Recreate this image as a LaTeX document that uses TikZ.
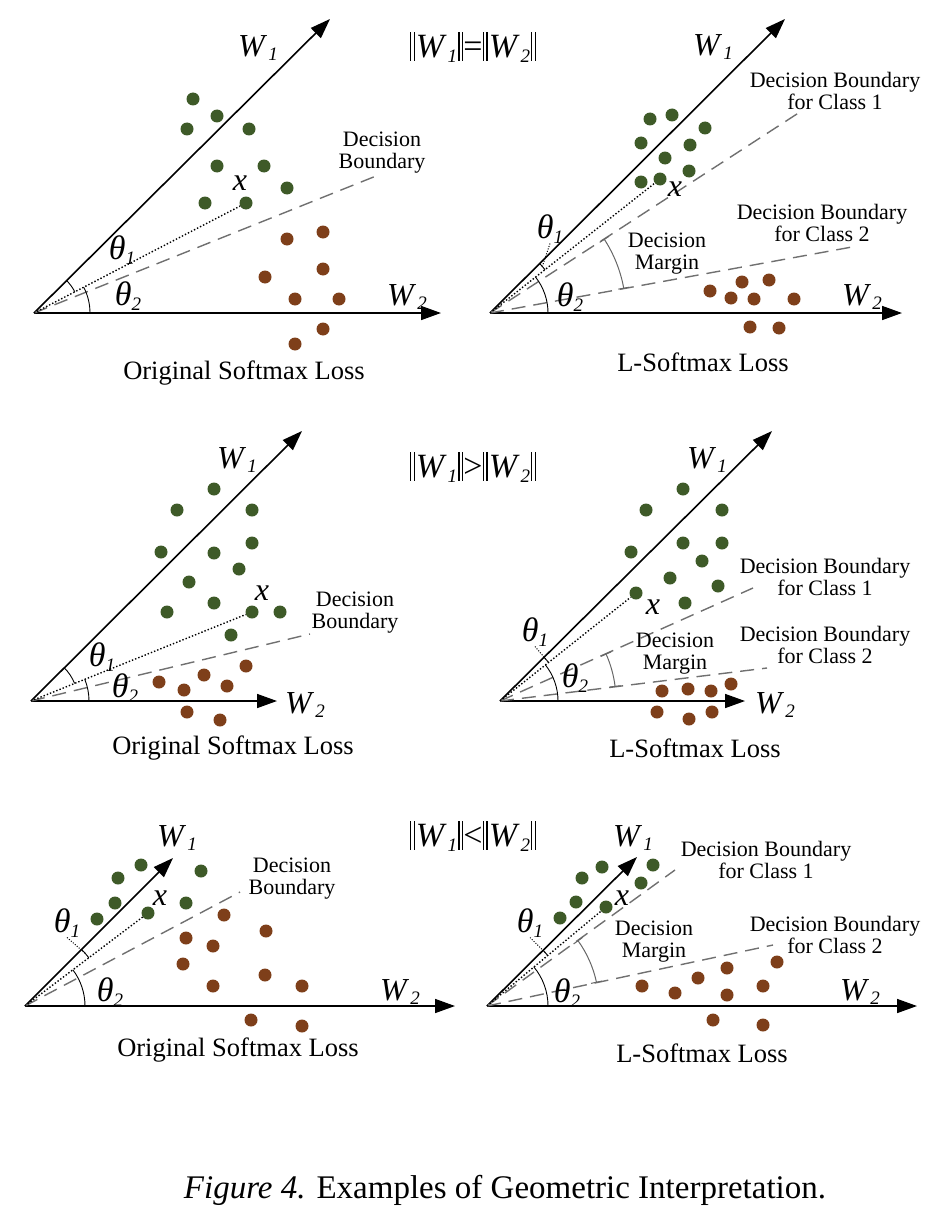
\documentclass[tikz,border=0pt]{standalone}
\usepackage{fontspec}
\setmainfont{Liberation Serif}
\usetikzlibrary{arrows.meta}

\definecolor{dotgreen}{RGB}{62,90,40}
\definecolor{dotbrown}{RGB}{126,63,26}
\definecolor{bndgray}{RGB}{112,112,112}

\newcommand{\wlab}[1]{\textit{W}\kern1pt\raisebox{-0.15em}{\fontsize{19}{19}\selectfont\textit{#1}}}
\newcommand{\thlab}[1]{{\fontsize{34}{34}\selectfont\textit{θ}}\raisebox{-0.15em}{\fontsize{19}{19}\selectfont\textit{#1}}}
\newcommand{\dbar}{\rule[-0.1em]{1.3pt}{0.86em}\kern2.6pt\rule[-0.1em]{1.3pt}{0.86em}}
\newcommand{\nrm}[1]{\dbar\kern1pt#1\kern1pt\dbar}

\begin{document}
\begin{tikzpicture}[x=1pt, y=-1pt,
    axis/.style={line width=1.6pt, -{Triangle[length=20pt,width=14pt]}},
    bound/.style={line width=1.4pt, bndgray, dash pattern=on 14pt off 8pt},
    xline/.style={line width=1.4pt, dash pattern=on 1.4pt off 2pt},
    leader/.style={line width=1pt, dash pattern=on 1pt off 1.6pt},
    angarc/.style={line width=0.9pt},
    marc/.style={line width=1pt, black!60, {Bar[width=11pt]}-{Bar[width=11pt]}},
    gdot/.style={circle, fill=dotgreen, inner sep=0pt, minimum size=13pt},
    bdot/.style={circle, fill=dotbrown, inner sep=0pt, minimum size=13pt},
    lab/.style={inner sep=0pt, font=\fontsize{32}{32}\selectfont},
    head/.style={inner sep=0pt, font=\fontsize{34}{34}\selectfont},
    note/.style={align=center, inner sep=0pt, font=\fontsize{22}{22}\selectfont},
    loss/.style={inner sep=0pt, font=\fontsize{26.5}{30}\selectfont},
  ]
  \useasboundingbox (0,0) rectangle (934,1220);

  % headers
  \node[head] (hd1) at (473,47) {\nrm{\wlab{1}}=\nrm{\wlab{2}}};
  \node[head] (hd2) at (473,467) {\nrm{\wlab{1}}>\nrm{\wlab{2}}};
  \node[head] (hd3) at (473,836) {\nrm{\wlab{1}}<\nrm{\wlab{2}}};

  % ---- top left: original softmax, equal norms
  \coordinate (o1) at (34,313);
  \coordinate (a1w1) at (330,19);
  \coordinate (a1w2) at (441,313);
  \coordinate (a1db) at (376,176);
  \foreach \p [count=\i] in {(193,99),(217,116),(187,129),(249,129),(217,166),
      (264,166),(287,188),(205,203),(246,203)}
    \node[gdot] (a1g\i) at \p {};
  \foreach \p [count=\i] in {(323,232),(287,239),(323,269),(265,277),(295,299),
      (339,299),(323,329),(295,344)}
    \node[bdot] (a1b\i) at \p {};
  \draw[axis] (o1) -- (a1w1);
  \draw[axis] (o1) -- (a1w2);
  \draw[bound] (o1) -- (a1db);
  \draw[xline] (o1) -- (a1g9);
  \draw[angarc] (o1) ++(-27.4:46) arc[start angle=-27.4, end angle=-45, radius=46];
  \draw[angarc] (o1) ++(0:56) arc[start angle=0, end angle=-27.4, radius=56];
  \node[lab] (a1l1) at (258,48) {\wlab{1}};
  \node[lab] (a1l2) at (407,297) {\wlab{2}};
  \node[lab] (a1x) at (240,183) {\textit{x}};
  \node[lab] (a1t1) at (122,250) {\thlab{1}};
  \node[lab] (a1t2) at (128,296) {\thlab{2}};
  \node[note] (a1n) at (382,153) {Decision\\Boundary};
  \node[loss] (a1c) at (244,373) {Original Softmax Loss};

  % ---- top right: L-softmax, equal norms
  \coordinate (o2) at (490,313);
  \coordinate (a2w1) at (785,19);
  \coordinate (a2w2) at (902,313);
  \coordinate (a2d1) at (800,112);
  \coordinate (a2d2) at (852,247);
  \foreach \p [count=\i] in {(650,119),(672,115),(705,128),(641,143),(690,145),
      (665,158),(689,171),(641,182),(660,179)}
    \node[gdot] (a2g\i) at \p {};
  \foreach \p [count=\i] in {(742,282),(769,280),(710,291),(731,298),(754,299),
      (794,299),(750,327),(779,328)}
    \node[bdot] (a2b\i) at \p {};
  \draw[axis] (o2) -- (a2w1);
  \draw[axis] (o2) -- (a2w2);
  \draw[bound] (o2) -- (a2d1);
  \draw[bound] (o2) -- (a2d2);
  \draw[xline] (o2) -- (a2g9);
  \draw[angarc] (o2) ++(-38.2:70) arc[start angle=-38.2, end angle=-45, radius=70];
  \draw[angarc] (o2) ++(0:58) arc[start angle=0, end angle=-38.2, radius=58];
  \draw[marc] (o2) ++(-10.3:136) arc[start angle=-10.3, end angle=-33, radius=136];
  \node[lab] (a2l1) at (713,47) {\wlab{1}};
  \node[lab] (a2l2) at (862,297) {\wlab{2}};
  \node[lab] (a2x) at (675,189) {\textit{x}};
  \node[lab] (a2t1) at (550,229) {\thlab{1}};
  \node[lab] (a2t2) at (570,297) {\thlab{2}};
  \draw[leader] (a2t1.south) -- ([shift={(-41.6:70)}]o2);
  \node[note] (a2m) at (667,254) {Decision\\Margin};
  \node[note] (a2n1) at (835,91) {Decision Boundary\\for Class 1};
  \node[note] (a2n2) at (822,223) {Decision Boundary\\for Class 2};
  \node[loss] (a2c) at (703,362) {L-Softmax Loss};

  % ---- middle left: original softmax, |W1| > |W2|
  \coordinate (o3) at (31,701);
  \coordinate (a3w1) at (302,431);
  \coordinate (a3w2) at (277,701);
  \coordinate (a3db) at (310,634);
  \foreach \p [count=\i] in {(214,489),(177,510),(252,510),(252,543),(161,552),
      (214,553),(239,569),(189,582),(214,603),(167,612),(280,612),(231,635),(252,612)}
    \node[gdot] (a3g\i) at \p {};
  \foreach \p [count=\i] in {(246,666),(204,675),(159,682),(227,686),(184,690),
      (187,712),(220,720)}
    \node[bdot] (a3b\i) at \p {};
  \draw[axis] (o3) -- (a3w1);
  \draw[axis] (o3) -- (a3w2);
  \draw[bound] (o3) -- (a3db);
  \draw[xline] (o3) -- (a3g13);
  \draw[angarc] (o3) ++(-21.9:47) arc[start angle=-21.9, end angle=-45, radius=47];
  \draw[angarc] (o3) ++(0:58) arc[start angle=0, end angle=-21.9, radius=58];
  \node[lab] (a3l1) at (237,460) {\wlab{1}};
  \node[lab] (a3l2) at (305,705) {\wlab{2}};
  \node[lab] (a3x) at (262,593) {\textit{x}};
  \node[lab] (a3t1) at (102,657) {\thlab{1}};
  \node[lab] (a3t2) at (125,688) {\thlab{2}};
  \node[note] (a3n) at (355,613) {Decision\\Boundary};
  \node[loss] (a3c) at (233,748) {Original Softmax Loss};

  % ---- middle right: L-softmax, |W1| > |W2|
  \coordinate (o4) at (500,701);
  \coordinate (a4w1) at (772,431);
  \coordinate (a4w2) at (745,701);
  \coordinate (a4d1) at (753,588);
  \coordinate (a4d2) at (767,668);
  \foreach \p [count=\i] in {(683,489),(646,510),(722,510),(683,543),(722,543),
      (631,552),(702,561),(670,578),(718,586),(685,603),(636,593)}
    \node[gdot] (a4g\i) at \p {};
  \foreach \p [count=\i] in {(731,684),(662,691),(688,689),(711,691),(657,712),
      (712,712),(689,719)}
    \node[bdot] (a4b\i) at \p {};
  \draw[axis] (o4) -- (a4w1);
  \draw[axis] (o4) -- (a4w2);
  \draw[bound] (o4) -- (a4d1);
  \draw[bound] (o4) -- (a4d2);
  \draw[xline] (o4) -- (a4g11);
  \draw[angarc] (o4) ++(-38.5:62) arc[start angle=-38.5, end angle=-45, radius=62];
  \draw[angarc] (o4) ++(0:58) arc[start angle=0, end angle=-38.5, radius=58];
  \draw[marc] (o4) ++(-7:116) arc[start angle=-7, end angle=-24.1, radius=116];
  \node[lab] (a4l1) at (707,460) {\wlab{1}};
  \node[lab] (a4l2) at (775,705) {\wlab{2}};
  \node[lab] (a4x) at (653,607) {\textit{x}};
  \node[lab] (a4t1) at (535,632) {\thlab{1}};
  \node[lab] (a4t2) at (575,678) {\thlab{2}};
  \draw[leader] (a4t1.south) -- ([shift={(-41.7:62)}]o4);
  \node[note] (a4m) at (675,654) {Decision\\Margin};
  \node[note] (a4n1) at (825,577) {Decision Boundary\\for Class 1};
  \node[note] (a4n2) at (825,645) {Decision Boundary\\for Class 2};
  \node[loss] (a4c) at (695,748) {L-Softmax Loss};

  % ---- bottom left: original softmax, |W1| < |W2|
  \coordinate (o5) at (25,1006);
  \coordinate (a5w1) at (173,858);
  \coordinate (a5w2) at (455,1006);
  \coordinate (a5db) at (240,892);
  \foreach \p [count=\i] in {(141,865),(118,878),(201,871),(115,903),(186,903),
      (97,919),(148,913)}
    \node[gdot] (a5g\i) at \p {};
  \foreach \p [count=\i] in {(224,915),(266,931),(186,938),(213,946),(183,964),
      (265,975),(213,986),(302,986),(251,1020),(302,1026)}
    \node[bdot] (a5b\i) at \p {};
  \draw[axis] (o5) -- (a5w1);
  \draw[axis] (o5) -- (a5w2);
  \draw[bound] (o5) -- (a5db);
  \draw[xline] (o5) -- (a5g7);
  \draw[angarc] (o5) ++(-37.1:80) arc[start angle=-37.1, end angle=-45, radius=80];
  \draw[angarc] (o5) ++(0:60) arc[start angle=0, end angle=-37.1, radius=60];
  \node[lab] (a5l1) at (177,838) {\wlab{1}};
  \node[lab] (a5l2) at (400,992) {\wlab{2}};
  \node[lab] (a5x) at (160,898) {\textit{x}};
  \node[lab] (a5t1) at (67,923) {\thlab{1}};
  \node[lab] (a5t2) at (110,992) {\thlab{2}};
  \draw[leader] (a5t1.south) -- ([shift={(-41:80)}]o5);
  \node[note] (a5n) at (292,879) {Decision\\Boundary};
  \node[loss] (a5c) at (238,1050) {Original Softmax Loss};

  % ---- bottom right: L-softmax, |W1| < |W2|
  \coordinate (o6) at (487,1006);
  \coordinate (a6w1) at (637,857);
  \coordinate (a6w2) at (917,1006);
  \coordinate (a6d1) at (675,870);
  \coordinate (a6d2) at (773,945);
  \foreach \p [count=\i] in {(602,867),(653,865),(582,878),(641,883),(576,902),
      (560,918),(606,907)}
    \node[gdot] (a6g\i) at \p {};
  \foreach \p [count=\i] in {(777,962),(727,968),(698,978),(642,986),(763,986),
      (675,993),(727,995),(713,1020),(763,1025)}
    \node[bdot] (a6b\i) at \p {};
  \draw[axis] (o6) -- (a6w1);
  \draw[axis] (o6) -- (a6w2);
  \draw[bound] (o6) -- (a6d1);
  \draw[bound] (o6) -- (a6d2);
  \draw[xline] (o6) -- (a6g7);
  \draw[angarc] (o6) ++(-39.8:79) arc[start angle=-39.8, end angle=-45, radius=79];
  \draw[angarc] (o6) ++(0:61) arc[start angle=0, end angle=-39.8, radius=61];
  \draw[marc] (o6) ++(-12:112) arc[start angle=-12, end angle=-35.9, radius=112];
  \node[lab] (a6l1) at (633,838) {\wlab{1}};
  \node[lab] (a6l2) at (860,992) {\wlab{2}};
  \node[lab] (a6x) at (622,898) {\textit{x}};
  \node[lab] (a6t1) at (530,923) {\thlab{1}};
  \node[lab] (a6t2) at (567,993) {\thlab{2}};
  \draw[leader] (a6t1.south) -- ([shift={(-42.4:79)}]o6);
  \node[note] (a6m) at (654,942) {Decision\\Margin};
  \node[note] (a6n1) at (766,860) {Decision Boundary\\for Class 1};
  \node[note] (a6n2) at (835,935) {Decision Boundary\\for Class 2};
  \node[loss] (a6c) at (702,1053) {L-Softmax Loss};

  % figure caption
  \node[inner sep=0pt, font=\fontsize{33}{36}\selectfont] (figcap) at (505,1190)
    {\textit{Figure 4.} Examples of Geometric Interpretation.};
\end{tikzpicture}
\end{document}
